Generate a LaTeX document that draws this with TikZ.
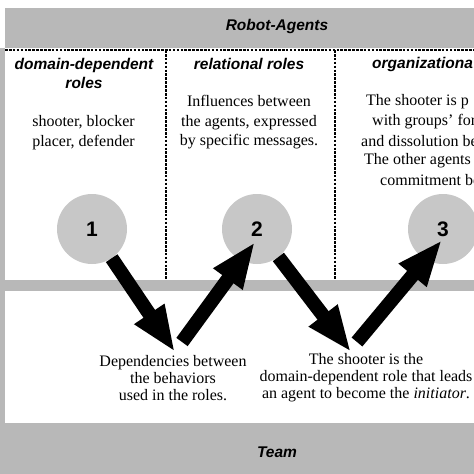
\documentclass[tikz,border=0pt]{standalone}
\usepackage{fontspec}
\setmainfont{Liberation Serif}
\setsansfont{Liberation Sans}
\usetikzlibrary{arrows.meta}

\begin{document}
\begin{tikzpicture}[x=1pt,y=-1pt,
  band/.style={fill=black!28},
  divider/.style={line width=1.8pt,dash pattern=on 2.6pt off 1.3pt},
  colhead/.style={font=\sffamily\bfseries\itshape\fontsize{15.5}{19.5}\selectfont,align=center},
  txt/.style={font=\fontsize{16}{19.5}\selectfont,align=center},
  txtlow/.style={font=\fontsize{16}{17}\selectfont,align=center},
  role/.style={circle,fill=black!22,minimum size=70pt,inner sep=0pt,font=\sffamily\bfseries\fontsize{21}{21}\selectfont},
  fat/.style={line width=14pt,-{Triangle[length=46pt,width=33pt]}}]
\useasboundingbox (0,0) rectangle (474,474);
\clip (0,0) rectangle (474,474);
% grey bands
\fill[band] (5,8) rectangle (474,48);
\fill[band] (0,48) rectangle (5,474);
\fill[band] (0,280) rectangle (474,291);
\fill[band] (0,423) rectangle (474,474);
% dotted separators
\draw[divider] (5,50) -- (474,50);
\draw[divider] (166,50) -- (166,280);
\draw[divider] (335,50) -- (335,280);
% titles
\node[colhead] (robots) at (277,26) {Robot-Agents};
\node[colhead] (team) at (277,452) {Team};
\node[colhead] (dom) at (84,73.5) {domain-dependent\\roles};
\node[colhead] (rel) at (249,64) {relational roles};
\node[colhead,anchor=west,inner sep=0pt] (org) at (372,64) {organizationa};
% column texts
\node[txt] (kinds) at (83.5,132.5) {shooter, blocker\\placer, defender};
\node[txt] (infl) at (249,122.5) {Influences between\\the agents, expressed\\by specific messages.};
\node[txt,anchor=west,inner sep=0pt] (o1) at (366,102) {The shooter is p};
\node[txt,anchor=west,inner sep=0pt] (o2) at (372,122) {with groups' for};
\node[txt,anchor=west,inner sep=0pt] (o3) at (361,141) {and dissolution be};
\node[txt,anchor=west,inner sep=0pt] (o4) at (364,161) {The other agents};
\node[txt,anchor=west,inner sep=0pt] (o5) at (380,180) {commitment be};
% roles
\node[role] (c1) at (92,229) {1};
\node[role] (c2) at (257,229) {2};
\node[role] (c3) at (443,229) {3};
% lower texts
\node[txtlow] (dep) at (173,378) {Dependencies between\\the behaviors\\used in the roles.};
\node[txtlow] (lead) at (366,378) {The shooter is the\\domain-dependent role that leads\\an agent to become the \textit{initiator}.};
% arrows
\coordinate (tA) at (175,352);
\coordinate (sB) at (182,342);
\coordinate (tB) at (255,242);
\coordinate (tC) at (351,352);
\coordinate (sD) at (357,342);
\coordinate (tD) at (442,240);
\draw[fat] (c1) -- (tA);
\draw[fat] (sB) -- (tB);
\draw[fat] (c2) -- (tC);
\draw[fat] (sD) -- (tD);
\end{tikzpicture}
\end{document}
